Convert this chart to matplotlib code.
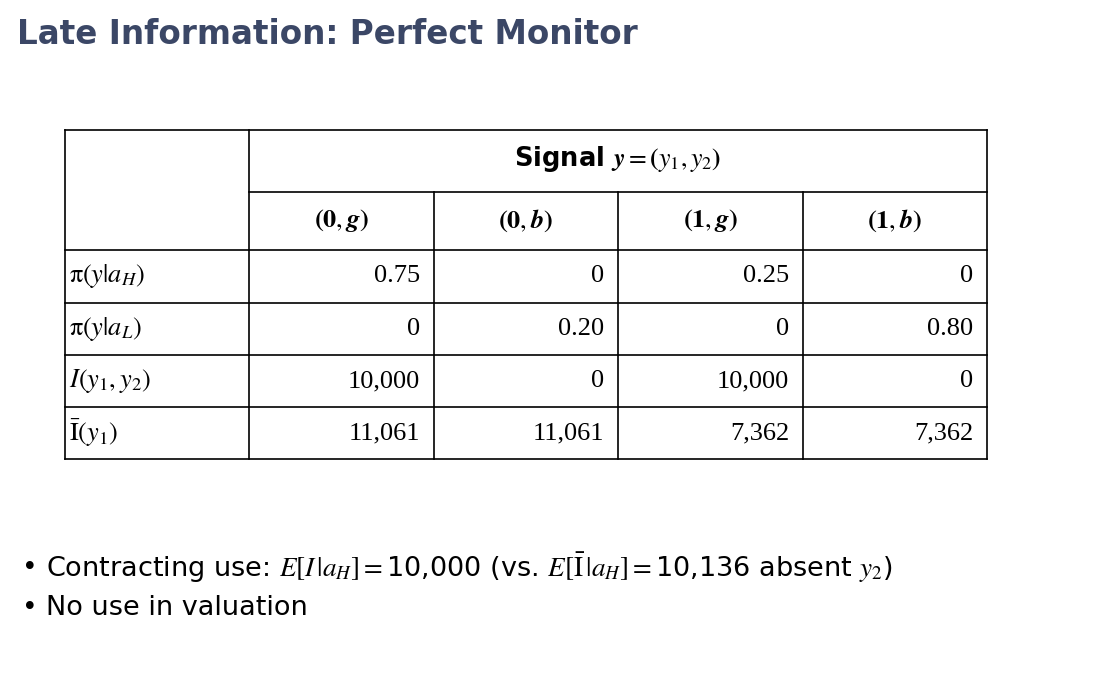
import matplotlib
matplotlib.use("Agg")
import matplotlib.pyplot as plt

plt.rcParams['mathtext.fontset'] = 'stix'

title = "Late Information: Perfect Monitor"
col_labels = [r"$\mathbf{(0},\boldsymbol{g}\mathbf{)}$", r"$\mathbf{(0},\boldsymbol{b}\mathbf{)}$",
              r"$\mathbf{(1},\boldsymbol{g}\mathbf{)}$", r"$\mathbf{(1},\boldsymbol{b}\mathbf{)}$"]
row_labels = [r"$\mathrm{\pi}(y|a_H)$", r"$\mathrm{\pi}(y|a_L)$", r"$I(y_1,y_2)$", r"$\mathrm{\bar{I}}(y_1)$"]
cells = [["0.75", "0", "0.25", "0"],
         ["0", "0.20", "0", "0.80"],
         ["10,000", "0", "10,000", "0"],
         ["11,061", "11,061", "7,362", "7,362"]]
bullets = [r"Contracting use: $E[I\,|a_H] = $10,000 (vs. $E[\mathrm{\bar{I}}\,|a_H] = $10,136 absent $y_2$)",
           "No use in valuation"]

W, H = 1112, 696
fig = plt.figure(figsize=(W/100, H/100), dpi=100)
ax = fig.add_axes([0, 0, 1, 1])
ax.set_xlim(0, W); ax.set_ylim(H, 0); ax.axis('off')

ax.text(17, 35, title, fontsize=23.5, fontweight='bold', color='#3b4766', va='center', ha='left')

xs = [65, 249, 434, 618, 803, 987]
ys = [130, 192, 250, 303, 355, 407, 459]
lw = 1.2
for y in [ys[0]] + ys[2:]:
    ax.plot([xs[0], xs[-1]], [y, y], color='black', lw=lw)
ax.plot([xs[1], xs[-1]], [ys[1], ys[1]], color='black', lw=lw)
for i, x in enumerate(xs):
    if i in (0, 1, 5):
        ax.plot([x, x], [ys[0], ys[-1]], color='black', lw=lw)
    else:
        ax.plot([x, x], [ys[1], ys[-1]], color='black', lw=lw)

ax.text((xs[1]+xs[-1])/2, (ys[0]+ys[1])/2 - 2,
        r"Signal $\boldsymbol{y} = \mathbf{(}\boldsymbol{y_1},\boldsymbol{y_2}\mathbf{)}$",
        fontsize=18.5, fontweight='bold', ha='center', va='center')
for j, lab in enumerate(col_labels):
    ax.text((xs[j+1]+xs[j+2])/2, (ys[1]+ys[2])/2, lab, fontsize=19, ha='center', va='center')
for i, lab in enumerate(row_labels):
    yc = (ys[i+2]+ys[i+3])/2
    ax.text(xs[0]+4, yc, lab, fontsize=19, ha='left', va='center')
    for j, v in enumerate(cells[i]):
        ax.text(xs[j+2]-14, yc, v, fontsize=19, ha='right', va='center', family='Liberation Serif')

for k, b in enumerate(bullets):
    y = 568 + k*40
    ax.text(22, y, "\u2022", fontsize=19, ha='left', va='center')
    ax.text(46, y, b, fontsize=19.5, ha='left', va='center')

plt.savefig('out.png', dpi=100)
